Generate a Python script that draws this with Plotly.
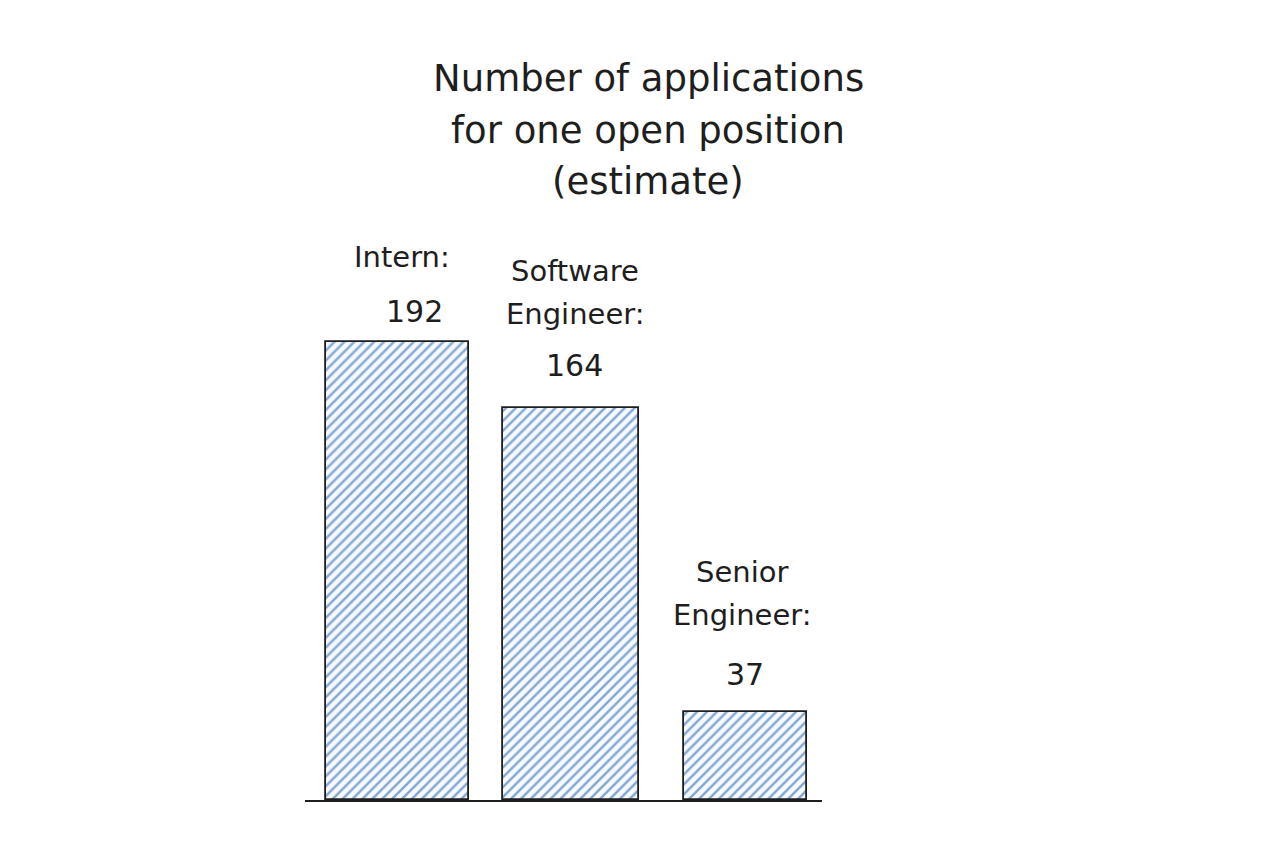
import plotly.graph_objects as go

categories = ["Intern", "Software Engineer", "Senior Engineer"]
values = [192, 164, 37]
label_lines = [["Intern:"], ["Software", "Engineer:"], ["Senior", "Engineer:"]]
title_lines = ["Number of applications", "for one open position", "(estimate)"]

x_pos = [0, 1, 2]
bar_widths = [0.82, 0.78, 0.71]

FONT = "DejaVu Sans"
INK = "#1e1e1e"
BLUE = "#1559a8"

# body margin of 8px in the browser page is compensated here
L, R, T, B = 297, 466, 195, 61
PLOT_H = 853 - T - B

fig = go.Figure()
fig.add_trace(go.Bar(
    x=x_pos,
    y=values,
    width=bar_widths,
    marker=dict(
        color="white",
        line=dict(color=INK, width=1.8),
        pattern=dict(shape="/", fgcolor=BLUE, bgcolor="#f6f9fd", size=7, solidity=0.36),
    ),
    hovertext=categories,
    showlegend=False,
))

annotations = []
title_y = [78, 130, 182]
for line, py in zip(title_lines, title_y):
    annotations.append(dict(
        text=line, xref="paper", yref="paper",
        x=(648 - 305) / 517, y=(800 - py) / PLOT_H,
        showarrow=False, xanchor="center", yanchor="middle",
        font=dict(family=FONT, size=37, color=INK),
    ))

value_offset = [30, 43, 37]
name_offsets = [[85], [137, 94], [140, 97]]
for i, (v, lines) in enumerate(zip(values, label_lines)):
    annotations.append(dict(
        text=str(v), x=x_pos[i] + [0.1, 0.02, 0.0][i], y=v, xref="x", yref="y",
        showarrow=False, yshift=value_offset[i], xanchor="center", yanchor="middle",
        font=dict(family=FONT, size=30, color=INK),
    ))
    for line, off in zip(lines, name_offsets[i]):
        annotations.append(dict(
            text=line, x=x_pos[i] + [0.03, 0.02, -0.02][i], y=v, xref="x", yref="y",
            showarrow=False, yshift=off, xanchor="center", yanchor="middle",
            font=dict(family=FONT, size=29, color=INK),
        ))

fig.update_layout(
    width=1280, height=853,
    margin=dict(l=L, r=R, t=T, b=B),
    paper_bgcolor="white", plot_bgcolor="white",
    annotations=annotations,
    bargap=0,
)
fig.update_xaxes(range=[-0.53, 2.44], showline=True, linecolor=INK, linewidth=2.2,
                 showticklabels=False, ticks="", showgrid=False, zeroline=False)
fig.update_yaxes(range=[0, 250], visible=False, showgrid=False, zeroline=False)

fig.write_html("out.html")
